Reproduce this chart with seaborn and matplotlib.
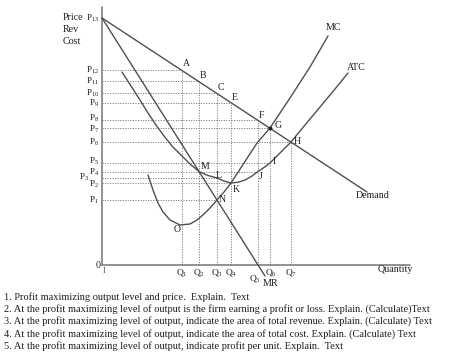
import matplotlib
matplotlib.use("Agg")
import matplotlib.pyplot as plt
import seaborn as sns

sns.set_theme(style="white")
plt.rcParams["font.family"] = ["Liberation Serif", "DejaVu Serif"]
plt.rcParams["mathtext.fontset"] = "custom"
plt.rcParams["mathtext.rm"] = "Liberation Serif"

# --- Werte ---------------------------------------------------------------
Q_LEVELS = [80, 97, 115, 129, 156, 168, 189]                 # Q1..Q7
P_LEVELS = [65, 82, 87, 93.5, 102, 123, 137, 145, 162, 172,  # P1..P10
            184, 195, 247]                                   # P11..P13

DEMAND_Q = [0, 265]
DEMAND_P = [247, 73]

MR_Q = [0, 163]
MR_P = [247, -11]

MC_Q = [46, 51, 56, 61, 68, 78, 88, 95, 102, 108, 115, 122, 129,
        142, 155, 168, 188, 208, 226]
MC_P = [90, 75, 62, 53, 45, 40, 41, 45, 51, 57, 65, 73, 82,
        102, 122, 137, 167, 198, 229]

ATC_Q = [20, 29, 38, 46, 54, 62, 70, 79, 88, 97, 106, 115, 122, 129,
         136, 143, 150, 156, 162, 168, 178, 189, 203, 218, 233, 246]
ATC_P = [193, 179, 165, 152, 140, 129, 119, 110, 101, 93.5, 89.5, 87, 84, 82,
         82.7, 85, 89, 93.5, 97.5, 102, 112, 123, 140, 158, 176, 192]

# horizontale Hilfslinien: (Preisindex P_n, bis Q_m)
H_GUIDES = [(12, 1), (11, 2), (10, 3), (9, 4), (8, 5), (7, 6), (6, 7),
            (5, 6), (4, 5), (3, 3), (2, 4), (1, 3)]
# vertikale Hilfslinien: (Q_m, bis P_n)
V_GUIDES = [(1, 12), (2, 11), (3, 10), (4, 9), (5, 8), (6, 7), (7, 6)]

# Punktbeschriftungen: (Name, Q-Index, P-Index, dx, dy) in Pixeln
POINT_LABELS = [
    ("A", 1, 12, 4, 6), ("B", 2, 11, 4, 6), ("C", 3, 10, 4, 5),
    ("E", 4, 9, 4, 5), ("F", 5, 8, 3, 5), ("G", 6, 7, 8, 2),
    ("H", 7, 6, 6, 0), ("M", 2, 4, 6, 5), ("L", 3, 3, 2, 3),
    ("K", 4, 2, 5, -7), ("J", 5, 4, 3, -5), ("I", 6, 5, 4, 2),
    ("N", 3, 1, 5, 0),
]

QUESTIONS = [
    "1. Profit maximizing output level and price.  Explain.  Text",
    "2. At the profit maximizing level of output is the firm earning a profit or loss. Explain. (Calculate)Text",
    "3. At the profit maximizing level of output, indicate the area of total revenue. Explain. (Calculate) Text",
    "4. At the profit maximizing level of output, indicate the area of total cost. Explain. (Calculate) Text",
    "5. At the profit maximizing level of output, indicate profit per unit. Explain.  Text",
]

LINE_COLOR = "#4f4f4f"
GUIDE_COLOR = "#808080"
TEXT_COLOR = "#1e1e1e"
PX = 0.72  # Pixel -> Punkte bei dpi=100

# kleine Verschiebungen der P-Beschriftungen (x, y), damit nichts kollidiert
P_LABEL_SHIFT = {2: (0, -1), 3: (-10, 1), 4: (0, -1), 5: (0, 1.5),
                 7: (0, -1.2), 8: (0, 1.5)}


def sub(name, idx):
    return r"$\mathregular{" + name + "_{" + str(idx) + "}}$"


def main():
    fig = plt.figure(figsize=(4.74, 3.53), dpi=100)
    ax = fig.add_axes([0, 0, 1, 1])
    ax.set_xlim(-102, 372)
    ax.set_ylim(-88, 265)
    ax.axis("off")

    # Achsen
    ax.plot([0, 0], [0, 258], color="#8a8a8a", lw=1.3)
    ax.plot([0, 308], [0, 0], color="#8a8a8a", lw=1.3)

    # Hilfslinien
    for p_idx, q_idx in H_GUIDES:
        ax.hlines(P_LEVELS[p_idx - 1], 0, Q_LEVELS[q_idx - 1], color=GUIDE_COLOR,
                  lw=0.7, linestyles=(0, (1.2, 1.4)))
    for q_idx, p_idx in V_GUIDES:
        ax.vlines(Q_LEVELS[q_idx - 1], 0, P_LEVELS[p_idx - 1], color=GUIDE_COLOR,
                  lw=0.7, linestyles=(0, (1.2, 1.4)))

    # Kurven
    for qs, ps in [(DEMAND_Q, DEMAND_P), (MR_Q, MR_P), (MC_Q, MC_P), (ATC_Q, ATC_P)]:
        sns.lineplot(x=qs, y=ps, ax=ax, color=LINE_COLOR, lw=1.0, sort=False,
                     estimator=None)

    fs = 7.2
    # Achsenbeschriftung links
    ax.text(-39, 247, "Price", fontsize=fs, color=TEXT_COLOR, va="center")
    ax.text(-39, 235, "Rev", fontsize=fs, color=TEXT_COLOR, va="center")
    ax.text(-39, 223, "Cost", fontsize=fs, color=TEXT_COLOR, va="center")

    for i, p in enumerate(P_LEVELS, start=1):
        dx, dy = P_LABEL_SHIFT.get(i, (0, 0))
        ax.text(-3 + dx, p + dy, sub("P", i), fontsize=6.6, color=TEXT_COLOR,
                ha="right", va="center")

    for i, q in enumerate(Q_LEVELS, start=1):
        x, y = q, -8
        if i == 5:
            x, y = q - 3, -14
        elif i == 6:
            x = q + 1
        ax.text(x, y, sub("Q", i), fontsize=6.8, color=TEXT_COLOR,
                ha="center", va="center")

    ax.text(-4, 0, "0", fontsize=fs, color=TEXT_COLOR, ha="center", va="center")
    ax.text(2, -6, "I", fontsize=6, color="#555555", ha="center", va="center")

    for name, q_idx, p_idx, dx, dy in POINT_LABELS:
        ax.annotate(name, (Q_LEVELS[q_idx - 1], P_LEVELS[p_idx - 1]),
                    xytext=(dx * PX, dy * PX), textcoords="offset points",
                    fontsize=7, color=TEXT_COLOR, ha="center", va="center")
    ax.text(75, 36, "O", fontsize=7, color=TEXT_COLOR, ha="center", va="center")
    ax.plot(Q_LEVELS[5], P_LEVELS[6], "o", color="#222222", ms=1.8)

    # Kurvenbeschriftungen
    ax.text(231, 237, "MC", fontsize=fs, color=TEXT_COLOR, ha="center", va="center")
    ax.text(254, 198, "ATC", fontsize=fs, color=TEXT_COLOR, ha="center", va="center")
    ax.text(271, 69, "Demand", fontsize=fs, color=TEXT_COLOR, ha="center", va="center")
    ax.text(168, -18, "MR", fontsize=fs, color=TEXT_COLOR, ha="center", va="center")
    ax.text(293, -4, "Quantity", fontsize=fs, color=TEXT_COLOR, ha="center", va="center")

    # Aufgaben unter dem Diagramm
    for k, line in enumerate(QUESTIONS):
        y_px = 297 + k * 12.2
        fig.text(4 / 474, 1 - y_px / 353, line, fontsize=7.45, color=TEXT_COLOR,
                 ha="left", va="center")

    fig.savefig("out.png", dpi=100)
    plt.close(fig)


if __name__ == "__main__":
    main()
